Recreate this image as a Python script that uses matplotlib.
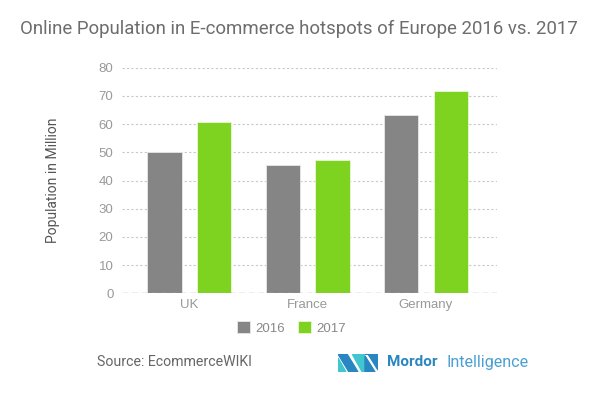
import matplotlib
matplotlib.use("Agg")
import matplotlib.pyplot as plt
import numpy as np
from matplotlib.patches import Polygon

countries = ["UK", "France", "Germany"]
years = ["2016", "2017"]
pop_2016 = [50.0, 45.4, 63.2]
pop_2017 = [60.6, 47.1, 71.8]
yticks = [0, 10, 20, 30, 40, 50, 60, 70, 80]

gray = "#858585"
green = "#7ed321"

fig = plt.figure(figsize=(5.97, 3.96), dpi=100)
ax = fig.add_axes([0.204, 0.2593, 0.6285, 0.5697])

x = np.arange(len(countries))
w = 0.29
off = 0.209
ax.bar(x - off, pop_2016, w, color=gray, edgecolor="#e8e8e8", linewidth=0.6, label=years[0], zorder=3)
ax.bar(x + off, pop_2017, w, color=green, edgecolor="#e8f7d8", linewidth=0.6, label=years[1], zorder=3)

ax.set_xlim(-0.57, 2.6)
ax.set_ylim(0, 80)
ax.set_yticks(yticks)
ax.set_xticks(x)
ax.set_xticklabels(countries)
for s in ax.spines.values():
    s.set_visible(False)
ax.grid(axis="y", color="#c8c8c8", linestyle=(0, (2, 2)), linewidth=0.8, zorder=0)
ax.axhline(0, color="#b0b0b0", linestyle=(0, (4, 3)), linewidth=1, zorder=4)
ax.tick_params(length=0, labelsize=9.5, labelcolor="#999999", pad=6)
ax.tick_params(axis="x", pad=4)
for t in ax.get_xticklabels() + ax.get_yticklabels():
    t.set_family("Liberation Sans")

ax.set_ylabel("Population in Million", family="Roboto",
              fontsize=10, color="#555555", labelpad=28)

leg = ax.legend(loc="center", bbox_to_anchor=(0.452, -0.154), ncol=2, frameon=False,
                handlelength=1.0, handleheight=1.0, handletextpad=0.4, columnspacing=1.0,
                prop={"family": "Liberation Sans", "size": 9.5})
for t in leg.get_texts():
    t.set_color("#888888")

fig.text(0.5, 0.928, "Online Population in E-commerce hotspots of Europe 2016 vs. 2017",
         ha="center", va="center", family="Roboto", fontsize=13.4, color="#6d6d6d")
fig.text(0.163, 0.085, "Source: EcommerceWIKI", ha="left", va="center",
         family="Roboto", fontsize=10.2, color="#666666")

# logo
lg = fig.add_axes([338 / 597, (396 - 372) / 396, 40 / 597, 18 / 396])
lg.set_xlim(0, 40)
lg.set_ylim(0, 18)
lg.axis("off")
dark = "#2a86c0"
teal = "#3fc6cf"
lg.add_patch(Polygon([(0, 18), (9, 18), (20, 0), (11, 0)], color=dark))
lg.add_patch(Polygon([(0, 0), (0, 14), (8, 0)], color=teal))
lg.add_patch(Polygon([(14, 18), (26, 18), (26, 0), (24, 0)], color=teal))
lg.add_patch(Polygon([(27, 18), (30, 18), (40, 2), (40, 18)], color=dark))
lg.add_patch(Polygon([(27, 0), (27, 16), (37, 0)], color=dark))
fig.text(387 / 597, 0.085, "Mordor", ha="left", va="center", family="Roboto",
         fontweight="bold", fontsize=11, color="#2a86c0")
fig.text(446 / 597, 0.085, "Intelligence", ha="left", va="center", family="Roboto",
         fontsize=11.6, color="#4a9fd4")

fig.savefig("out.png", dpi=100)
